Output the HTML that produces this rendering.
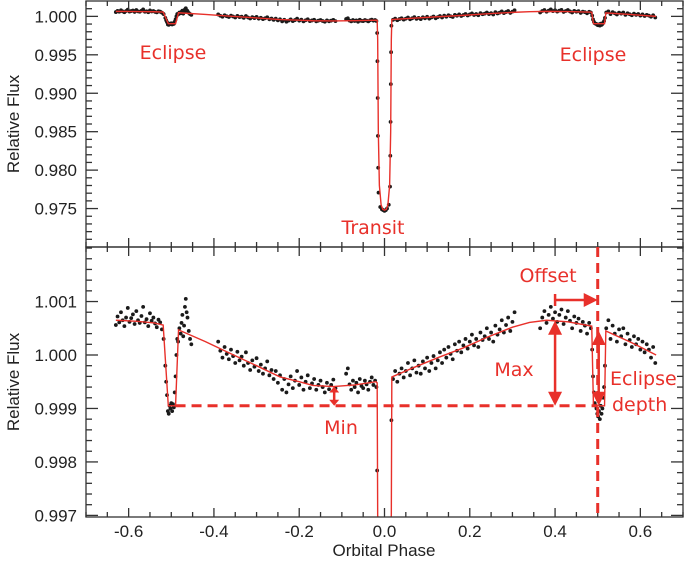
<!DOCTYPE html>
<html><head><meta charset="utf-8"><style>
html,body{margin:0;padding:0;background:#fff;width:685px;height:563px;overflow:hidden;}
svg{display:block;font-family:"Liberation Sans",sans-serif;}
.ann{font-family:"DejaVu Sans",sans-serif;fill:#e8302a;font-size:19px;}
</style></head><body>
<svg id="chart" width="685" height="563" viewBox="0 0 685 563" xmlns="http://www.w3.org/2000/svg"></svg>
<script>
// ---- data (flux offsets in ppm from 1.0) ----
const obsPhase = [
-0.630,-0.626,-0.622,-0.618,-0.614,-0.610,-0.606,-0.602,-0.598,-0.594,-0.590,-0.586,-0.582,-0.578,-0.574,-0.570,-0.566,-0.562,-0.558,-0.554,-0.550,-0.546,-0.542,-0.538,-0.534,-0.530,-0.526,-0.522,
-0.518,-0.514,-0.512,-0.510,-0.508,-0.506,-0.504,-0.502,-0.500,-0.498,-0.496,-0.494,-0.492,-0.490,-0.488,-0.486,
-0.484,-0.481,-0.478,-0.476,-0.474,-0.472,-0.470,-0.468,-0.466,-0.464,-0.462,-0.459,-0.456,-0.453,
-0.390,-0.385,-0.380,-0.375,-0.370,-0.365,-0.360,-0.355,-0.350,-0.345,-0.340,-0.335,-0.330,-0.325,-0.320,-0.315,-0.310,-0.305,-0.300,-0.295,-0.290,-0.285,-0.280,-0.275,-0.270,-0.265,-0.260,-0.255,-0.250,-0.245,-0.240,-0.235,-0.230,-0.225,-0.220,-0.215,-0.210,-0.205,-0.200,-0.195,-0.190,-0.185,-0.180,-0.175,-0.170,-0.165,-0.160,-0.155,-0.150,-0.145,-0.140,-0.135,-0.130,-0.125,-0.120,-0.115,
-0.090,-0.086,-0.082,-0.078,-0.074,-0.070,-0.066,-0.062,-0.058,-0.054,-0.050,-0.046,-0.042,-0.038,-0.034,-0.030,-0.026,-0.022,-0.019,
0.020,0.025,0.030,0.035,0.040,0.045,0.050,0.055,0.060,0.065,0.070,0.075,0.080,0.085,0.090,0.095,0.100,0.105,0.110,0.115,0.120,0.125,0.130,0.135,0.140,0.145,0.150,0.155,0.160,0.165,0.170,0.175,0.180,0.185,0.190,0.195,0.200,0.205,0.210,0.215,0.220,0.225,0.230,0.235,0.240,0.245,0.250,0.255,0.260,0.265,0.270,0.275,0.280,0.285,0.290,0.295,0.300,0.305,
0.365,0.370,0.375,0.380,0.385,0.390,0.395,0.400,0.405,0.410,0.415,0.420,0.425,0.430,0.435,0.440,0.445,0.450,0.455,0.460,0.465,0.470,0.475,0.480,0.484,
0.487,0.489,0.491,0.493,0.495,0.497,0.499,0.501,0.503,0.505,0.507,0.509,0.511,0.513,0.515,0.517,
0.520,0.525,0.530,0.535,0.540,0.545,0.550,0.555,0.560,0.565,0.570,0.575,0.580,0.585,0.590,0.595,0.600,0.605,0.610,0.615,0.620,0.625,0.630,0.635];
const obsPpm = [
560,720,610,800,650,540,700,880,620,690,760,580,820,650,600,730,900,610,670,540,780,640,700,590,520,660,610,480,
300,-200,-500,-750,-1050,-1100,-950,-1000,-900,-1050,-920,-980,-700,-400,0,300,
250,500,400,600,750,350,550,900,1050,800,700,450,300,200,
250,80,-50,150,20,-80,100,-20,-150,60,-100,-30,-200,50,-150,-280,-100,-220,-60,-300,-180,-350,-250,-120,-380,-280,-450,-300,-520,-380,-650,-450,-700,-550,-400,-620,-480,-300,-560,-420,-650,-500,-380,-620,-530,-450,-650,-560,-480,-600,-700,-520,-640,-560,-460,-620,
-350,-250,-550,-650,-480,-600,-520,-700,-450,-580,-620,-480,-550,-650,-500,-420,-560,-480,-600,
-450,-300,-500,-350,-250,-420,-300,-150,-380,-250,-100,-330,-200,-350,-120,-250,-50,-300,-150,-20,-250,-100,50,-150,100,-50,150,20,-80,200,80,250,50,180,300,120,250,380,180,300,150,420,280,350,500,300,420,250,550,380,480,650,420,560,700,450,620,800,
500,700,820,600,750,900,680,800,620,750,850,580,700,820,640,500,720,600,680,450,620,550,400,600,500,
100,-400,-700,-900,-950,-1000,-1100,-1150,-1050,-1200,-950,-1100,-1000,-800,-600,-200,
500,650,300,550,400,250,480,350,500,200,400,280,150,350,200,300,100,250,50,200,100,-50,150,-150];
const transitPhase = [-0.0172,-0.0166,-0.0160,-0.0154,-0.0148,-0.0140,-0.010,-0.006,-0.003,0.000,0.003,0.006,0.010,0.0130,0.0136,0.0142,0.0148,0.0154,0.0162];
const transitFlux = [0.99784,0.99417,0.98938,0.98446,0.98031,0.97707,0.9752,0.9749,0.9748,0.9747,0.9748,0.9750,0.9755,0.97785,0.98187,0.98627,0.99119,0.99534,0.99878];
const modelPhase = [-0.63,-0.58,-0.54,-0.519,-0.507,-0.49,-0.483,-0.42,-0.362,-0.30,-0.245,-0.2,-0.168,-0.12,-0.07,-0.02,-0.0172,-0.016,-0.0145,-0.012,-0.008,-0.004,0,0.004,0.008,0.012,0.0145,0.016,0.0172,0.067,0.125,0.184,0.24,0.30,0.34,0.38,0.43,0.486,0.49,0.516,0.519,0.58,0.637];
const modelFlux = [1.00065,1.00063,1.0006,1.00056,0.99905,0.99905,1.00047,1.00025,1.00003,0.9998,0.99959,0.9995,0.99943,0.99941,0.99944,0.9995,0.99948,0.997,0.985,0.978,0.9755,0.9749,0.9748,0.9749,0.9755,0.978,0.985,0.997,0.99959,0.99976,0.99995,1.00013,1.00033,1.00052,1.00061,1.00065,1.00062,1.00054,0.99905,0.99905,1.00045,1.00023,1.0];
const xTicks = [-0.6,-0.4,-0.2,0.0,0.2,0.4,0.6];
const xTickLabels = ["-0.6","-0.4","-0.2","0.0","0.2","0.4","0.6"];
const topYTicks = [1.000,0.995,0.990,0.985,0.980,0.975];
const topYLabels = ["1.000","0.995","0.990","0.985","0.980","0.975"];
const botYTicks = [1.001,1.000,0.999,0.998,0.997];
const botYLabels = ["1.001","1.000","0.999","0.998","0.997"];
const eclipseBottom = 0.99905;
const minMark = {phase:-0.118, value:0.99941};
const maxMark = {phase:0.40, value:1.00064};
const eclipseCenter = 0.50;
const eclipseTop = 1.00045;

// ---- layout ----
const NS="http://www.w3.org/2000/svg";
const svg=document.getElementById('chart');
const L=86,R=683,T1=1,B1=247,T2=247,B2=517;
const x=p=>L+(p+0.7)/1.4*(R-L);
const yTop=v=>T1+(1.002-v)/(1.002-0.970)*(B1-T1);
const yBot=v=>T2+(1.00202-v)/(1.00202-0.99697)*(B2-T2);
function mk(tag,attrs,parent){const e=document.createElementNS(NS,tag);for(const k in attrs)e.setAttribute(k,attrs[k]);(parent||svg).appendChild(e);return e;}
const defs=mk('defs',{});
const c1=mk('clipPath',{id:'c1'},defs);mk('rect',{x:L,y:T1,width:R-L,height:B1-T1},c1);
const c2=mk('clipPath',{id:'c2'},defs);mk('rect',{x:L,y:T2,width:R-L,height:B2-T2},c2);

function panel(yf,clip,name,yt,yl,minorStep,yMin,yMax,T,B){
  const g=mk('g',{'clip-path':'url(#'+clip+')'});
  
  
  const allP=obsPhase.concat(transitPhase), allF=obsPpm.map(v=>1+v*1e-6).concat(transitFlux);
  const dg=mk('g',{fill:'#1a1a1a'},g);
  
  
  for(let i=0;i<allP.length;i++){
    const cy=yf(allF[i]);
    if(cy<T-3||cy>B+3) continue;
    const c=mk('circle',{cx:x(allP[i]).toFixed(2),cy:cy.toFixed(2),r:1.9},dg);
    
    
  }
  const clampY=v=>Math.max(T-4,Math.min(B+4,v));
  const d=modelPhase.map((p,i)=>(i?'L':'M')+x(p).toFixed(2)+' '+clampY(yf(modelFlux[i])).toFixed(2)).join(' ');
  const m=mk('path',{d:d,fill:'none',stroke:'#e8302a','stroke-width':1.4},g);
  
  
  const ax=mk('g',{stroke:'#333','stroke-width':1.3,fill:'none'});
  
  
  mk('rect',{x:L,y:T,width:R-L,height:B-T},ax);
  for(let k=-14;k<=14;k++){const p=k*0.05;const xx=x(p);const len=(k%4===0)?9:5;
    mk('line',{x1:xx,y1:B,x2:xx,y2:B-len},ax);mk('line',{x1:xx,y1:T,x2:xx,y2:T+len},ax);}
  const nMin=Math.ceil(yMin/minorStep-1e-6), nMax=Math.floor(yMax/minorStep+1e-6);
  for(let k=nMin;k<=nMax;k++){const v=k*minorStep;const yy=yf(v);
    const major=yt.some(t=>Math.abs(t-v)<minorStep/10);const len=major?12:6;
    mk('line',{x1:L,y1:yy,x2:L+len,y2:yy},ax);mk('line',{x1:R,y1:yy,x2:R-len,y2:yy},ax);}
  yt.forEach((v,i)=>{const t=mk('text',{x:77,y:yf(v)+6,'text-anchor':'end','font-size':17,fill:'#222'});t.textContent=yl[i];
    });
  const tt=mk('text',{transform:`translate(19,${(T+B)/2}) rotate(-90)`,'text-anchor':'middle','font-size':17,fill:'#222'});
  tt.textContent='Relative Flux';
  
}
panel(yTop,'c1','top-panel',topYTicks,topYLabels,0.001,0.9705,1.0019,T1,B1);
panel(yBot,'c2','bottom-panel',botYTicks,botYLabels,0.0002,0.99698,1.0020,T2,B2);

xTicks.forEach((p,i)=>{const t=mk('text',{x:x(p),y:537,'text-anchor':'middle','font-size':17,fill:'#222'});t.textContent=xTickLabels[i];
  });
const xt=mk('text',{x:384,y:556,'text-anchor':'middle','font-size':17,fill:'#222'});xt.textContent='Orbital Phase';


// ---- annotations ----
const red='#e8302a';
const an=mk('g',{});

const hd=mk('line',{x1:x(-0.49),y1:yBot(eclipseBottom),x2:x(eclipseCenter),y2:yBot(eclipseBottom),stroke:red,'stroke-width':3,'stroke-dasharray':'10 6'},an);

const vd=mk('line',{x1:x(eclipseCenter),y1:T2,x2:x(eclipseCenter),y2:B2,stroke:red,'stroke-width':3,'stroke-dasharray':'10 6'},an);

function dbl(xx,y1,y2,w,h,name){const g=mk('g',{fill:red,stroke:red},an);
  
  mk('line',{x1:xx,y1:y1+h*0.8,x2:xx,y2:y2-h*0.8,'stroke-width':2.5},g);
  mk('polygon',{points:`${xx},${y1} ${xx-w},${y1+h} ${xx+w},${y1+h}`,stroke:'none'},g);
  mk('polygon',{points:`${xx},${y2} ${xx-w},${y2-h} ${xx+w},${y2-h}`,stroke:'none'},g);}
dbl(x(minMark.phase),yBot(minMark.value),yBot(eclipseBottom),5,6,'min-arrow');
dbl(x(maxMark.phase),yBot(maxMark.value),yBot(eclipseBottom),7,14,'max-arrow');
dbl(x(eclipseCenter)+1,yBot(eclipseTop),yBot(eclipseBottom),7,14,'eclipse-depth-arrow');
const og=mk('g',{fill:red,stroke:red},an);

mk('line',{x1:x(maxMark.phase),y1:300,x2:x(eclipseCenter)-12,y2:300,'stroke-width':2.5},og);
mk('line',{x1:x(maxMark.phase),y1:294,x2:x(maxMark.phase),y2:306,'stroke-width':2.5},og);
mk('polygon',{points:`${x(eclipseCenter)},300 ${x(eclipseCenter)-14},293 ${x(eclipseCenter)-14},307`,stroke:'none'},og);
function lab(tx,xx,yy,anchor,name){const t=mk('text',{x:xx,y:yy,'text-anchor':anchor,class:'ann'});t.textContent=tx;
  }
lab('Eclipse',173,59,'middle','eclipse-label-left');
lab('Eclipse',593,61,'middle','eclipse-label-right');
lab('Transit',373,234,'middle','transit-label');
lab('Min',341,434,'middle','min-label');
lab('Max',514,376,'middle','max-label');
lab('Offset',548,282,'middle','offset-label');
lab('Eclipse',610,385,'start','eclipse-depth-label-1');
lab('depth',612,411,'start','eclipse-depth-label-2');
</script>
</body></html>
